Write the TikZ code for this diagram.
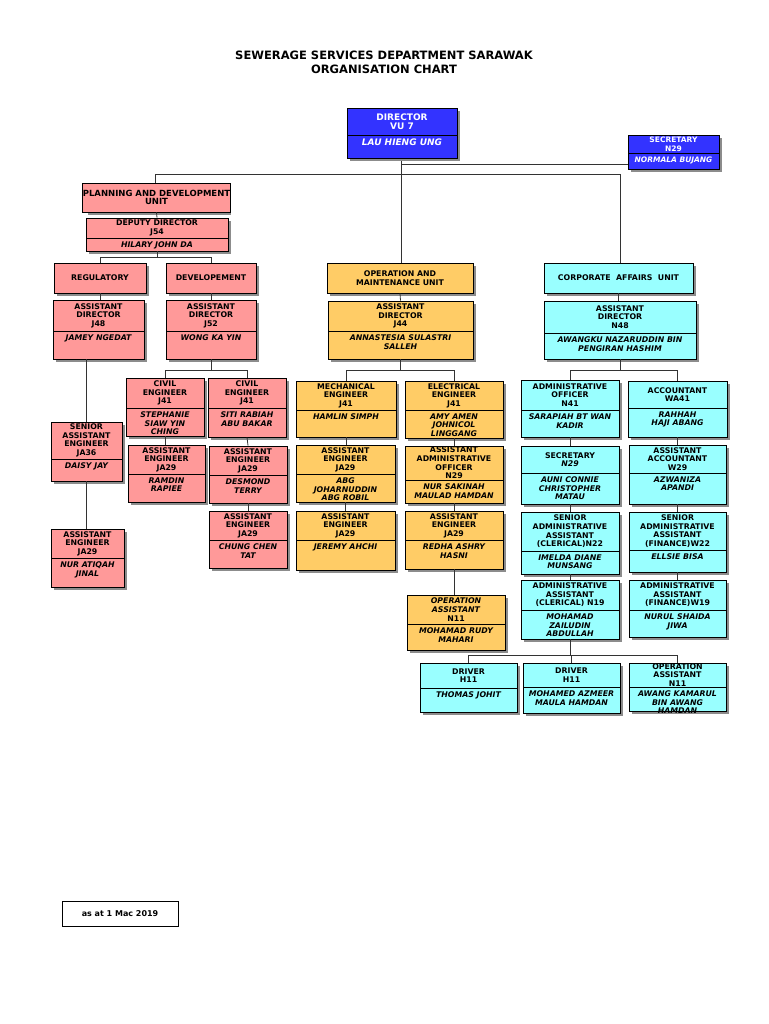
\documentclass[tikz,border=0pt]{standalone}
\usepackage{fontspec}
\setmainfont{DejaVu Sans}
\definecolor{pinkc}{HTML}{FF9999}
\definecolor{orc}{HTML}{FFCC66}
\definecolor{cyc}{HTML}{99FFFF}
\definecolor{bluec}{HTML}{3333FF}
\tikzset{
 pk/.style={fill=pinkc},
 og/.style={fill=orc},
 cy/.style={fill=cyc},
 bl/.style={fill=bluec,text=white},
 obx/.style={draw=black,line width=0.9pt,inner sep=0pt},
 txt/.style={align=center,inner sep=0pt,font=\fontsize{7.8}{8.6}\selectfont\bfseries},
 link/.style={draw=black!80,line width=0.8pt}
}
\newcommand\obox[9]{%
 \fill[black!45] ({#2+3},{#3+3}) rectangle ({#4+3},{#5+3});
 \node[obx,#7,minimum width={(#4-#2)*1pt},minimum height={(#5-#3)*1pt}] (#1) at ({(#2+#4)/2},{(#3+#5)/2}) {};
 \draw[line width=0.8pt] (#2,#6) -- (#4,#6);
 \node[txt,#7,fill=none] (#1-t) at ({(#2+#4)/2},{(#3+#6)/2}) {#8};
 \node[txt,#7,fill=none,anchor=north,font=\fontsize{7.8}{8.6}\selectfont\bfseries\itshape] (#1-b) at ({(#2+#4)/2},{#6+3.5}) {#9};
}
\newcommand\ubox[7]{%
 \fill[black!45] ({#2+3},{#3+3}) rectangle ({#4+3},{#5+3});
 \node[obx,#6,minimum width={(#4-#2)*1pt},minimum height={(#5-#3)*1pt},txt] (#1) at ({(#2+#4)/2},{(#3+#5)/2}) {#7};
}
\begin{document}
\begin{tikzpicture}[x=1pt,y=-1pt]
\useasboundingbox[fill=white] (0,0) rectangle (768,1024);
\node[font=\fontsize{11.5}{14}\selectfont\bfseries,align=center] (title) at (384,62) {SEWERAGE SERVICES DEPARTMENT SARAWAK\\ORGANISATION CHART};
\coordinate (s1) at (0,164);
% connectors (drawn first, behind boxes)
\coordinate (pn) at (155,183);
\coordinate (cn) at (620,263);
\coordinate (dn) at (401,158);
\draw[link] (pn) -- (155,174) -- (620,174) -- (cn);
\draw[link] (dn) -- (401,263);
\draw[link] (dn |- s1) -- (628,164);
% boxes
\obox{dir}{347}{108}{457}{158}{135}{bl}{\fontsize{9}{10.5}\selectfont DIRECTOR\\\fontsize{9}{10.5}\selectfont VU 7}{\fontsize{9}{10}\selectfont LAU HIENG UNG}
\obox{sec}{628}{135}{719}{169}{153}{bl}{\fontsize{7.5}{8.3}\selectfont SECRETARY\\\fontsize{7.5}{8.3}\selectfont N29}{\fontsize{7.5}{8.3}\selectfont NORMALA BUJANG}
\ubox{plan}{85}{183}{228}{212}{pk}{\fontsize{8.5}{9.5}\selectfont PLANNING AND DEVELOPMENT\\\fontsize{8.5}{9.5}\selectfont UNIT}
\obox{dd}{86}{218}{228}{251}{238}{pk}{DEPUTY DIRECTOR\\J54}{HILARY JOHN DA}
\ubox{reg}{54}{263}{146}{293}{pk}{REGULATORY}
\ubox{dev}{166}{263}{256}{293}{pk}{DEVELOPEMENT}
\obox{ad48}{53}{300}{144}{359}{331}{pk}{ASSISTANT\\DIRECTOR\\J48}{JAMEY NGEDAT}
\obox{ad52}{166}{300}{256}{359}{331}{pk}{ASSISTANT\\DIRECTOR\\J52}{WONG KA YIN}
\obox{sae}{51}{422}{122}{481}{459}{pk}{SENIOR\\ASSISTANT\\ENGINEER\\JA36}{DAISY JAY}
\obox{ae1}{51}{529}{124}{587}{558}{pk}{ASSISTANT\\ENGINEER\\JA29}{NUR ATIQAH\\JINAL}
\obox{ce1}{126}{378}{204}{436}{408}{pk}{CIVIL\\ENGINEER\\J41}{STEPHANIE\\SIAW YIN\\CHING}
\obox{ce2}{208}{378}{286}{437}{408}{pk}{CIVIL\\ENGINEER\\J41}{SITI RABIAH\\ABU BAKAR}
\obox{ae2}{128}{445}{205}{502}{474}{pk}{ASSISTANT\\ENGINEER\\JA29}{RAMDIN\\RAPIEE}
\obox{ae3}{209}{446}{287}{503}{475}{pk}{ASSISTANT\\ENGINEER\\JA29}{DESMOND\\TERRY}
\obox{ae4}{209}{511}{287}{568}{540}{pk}{ASSISTANT\\ENGINEER\\JA29}{CHUNG CHEN\\TAT}
\ubox{om}{327}{263}{473}{293}{og}{OPERATION AND\\MAINTENANCE UNIT}
\obox{ad44}{328}{301}{473}{359}{331}{og}{ASSISTANT\\DIRECTOR\\J44}{ANNASTESIA SULASTRI\\SALLEH}
\obox{me}{296}{381}{396}{437}{410}{og}{MECHANICAL\\ENGINEER\\J41}{HAMLIN SIMPH}
\obox{ee}{405}{381}{503}{438}{410}{og}{ELECTRICAL\\ENGINEER\\J41}{AMY AMEN\\JOHNICOL\\LINGGANG}
\obox{ae5}{296}{445}{395}{502}{474}{og}{ASSISTANT\\ENGINEER\\JA29}{ABG\\JOHARNUDDIN\\ABG ROBIL}
\obox{ae6}{296}{511}{395}{570}{540}{og}{ASSISTANT\\ENGINEER\\JA29}{JEREMY AHCHI}
\obox{aao}{405}{446}{503}{503}{480}{og}{ASSISTANT\\ADMINISTRATIVE\\OFFICER\\N29}{NUR SAKINAH\\MAULAD HAMDAN}
\obox{ae7}{405}{511}{503}{569}{540}{og}{ASSISTANT\\ENGINEER\\JA29}{REDHA ASHRY\\HASNI}
\obox{oa1}{407}{595}{505}{650}{624}{og}{\itshape OPERATION\\\itshape ASSISTANT\\N11}{MOHAMAD RUDY\\MAHARI}
\ubox{corp}{544}{263}{693}{293}{cy}{CORPORATE~ AFFAIRS~ UNIT}
\obox{ad48b}{544}{301}{696}{359}{333}{cy}{ASSISTANT\\DIRECTOR\\N48}{AWANGKU NAZARUDDIN BIN\\PENGIRAN HASHIM}
\obox{ao}{521}{380}{619}{437}{410}{cy}{ADMINISTRATIVE\\OFFICER\\N41}{SARAPIAH BT WAN\\KADIR}
\obox{acc}{628}{381}{727}{437}{408}{cy}{ACCOUNTANT\\WA41}{RAHHAH\\HAJI ABANG}
\obox{sec2}{521}{446}{619}{504}{473}{cy}{SECRETARY\\\itshape N29}{AUNI CONNIE\\CHRISTOPHER\\MATAU}
\obox{aacc}{629}{445}{726}{504}{473}{cy}{ASSISTANT\\ACCOUNTANT\\W29}{AZWANIZA\\APANDI}
\obox{saac}{521}{512}{619}{574}{551}{cy}{SENIOR\\ADMINISTRATIVE\\ASSISTANT\\(CLERICAL)N22}{IMELDA DIANE\\MUNSANG}
\obox{saaf}{629}{512}{726}{572}{550}{cy}{SENIOR\\ADMINISTRATIVE\\ASSISTANT\\(FINANCE)W22}{ELLSIE BISA}
\obox{aac}{521}{580}{619}{639}{610}{cy}{ADMINISTRATIVE\\ASSISTANT\\(CLERICAL) N19}{MOHAMAD\\ZAILUDIN\\ABDULLAH}
\obox{aaf}{629}{580}{726}{637}{610}{cy}{ADMINISTRATIVE\\ASSISTANT\\(FINANCE)W19}{NURUL SHAIDA\\JIWA}
\obox{dr1}{420}{663}{517}{712}{688}{cy}{DRIVER\\H11}{THOMAS JOHIT}
\obox{dr2}{523}{663}{620}{713}{687}{cy}{DRIVER\\H11}{MOHAMED AZMEER\\MAULA HAMDAN}
\obox{oa2}{629}{663}{726}{711}{687}{cy}{OPERATION\\ASSISTANT\\N11}{\fontsize{7.8}{7.8}\selectfont AWANG KAMARUL\\BIN AWANG\\HAMDAN}
\node[draw=black,line width=0.8pt,minimum width=116pt,minimum height=25pt,font=\fontsize{8}{9}\selectfont\bfseries] (date) at (120,913.5) {as at 1 Mac 2019};
% remaining connectors
\draw[link] (plan.south) -- (dd.north);
\draw[link] (dd.south) -- ++(0,6) -| (reg.north);
\draw[link] (dd.south) -- ++(0,6) -| (dev.north);
\draw[link] (reg.south) -- (reg.south |- ad48.north);
\draw[link] (dev.south) -- (ad52.north);
\draw[link] (ad48.south -| sae.north) -- (sae.north);
\draw[link] (sae.south) -- (sae.south |- ae1.north);
\draw[link] (ad52.south) -- ++(0,11) -| (ce1.north);
\draw[link] (ad52.south) -- ++(0,11) -| (ce2.north);
\draw[link] (ce1.south) -- (ce1.south |- ae2.north);
\draw[link] (ce2.south) -- (ae3.north);
\draw[link] (ae3.south) -- (ae4.north);
\draw[link] (om.south) -- (ad44.north);
\draw[link] (ad44.south) -- ++(0,11) -| (me.north);
\draw[link] (ad44.south) -- ++(0,11) -| (ee.north);
\draw[link] (me.south) -- (me.south |- ae5.north);
\draw[link] (ae5.south) -- (ae6.north);
\draw[link] (ee.south) -- (aao.north);
\draw[link] (aao.south) -- (ae7.north);
\draw[link] (ae7.south) -- (ae7.south |- oa1.north);
\draw[link] (corp.south) -- (corp.south |- ad48b.north);
\draw[link] (ad48b.south) -- ++(0,11) -| (ao.north);
\draw[link] (ad48b.south) -- ++(0,11) -| (acc.north);
\draw[link] (ao.south) -- (sec2.north);
\draw[link] (sec2.south) -- (saac.north);
\draw[link] (saac.south) -- (aac.north);
\draw[link] (acc.south) -- (acc.south |- aacc.north);
\draw[link] (aacc.south) -- (saaf.north);
\draw[link] (saaf.south) -- (aaf.north);
\draw[link] (aac.south) -- ++(0,16) -| (dr1.north);
\draw[link] (aac.south) -- ++(0,16) -| (dr2.north);
\draw[link] (aac.south) -- ++(0,16) -| (oa2.north);
\end{tikzpicture}
\end{document}
